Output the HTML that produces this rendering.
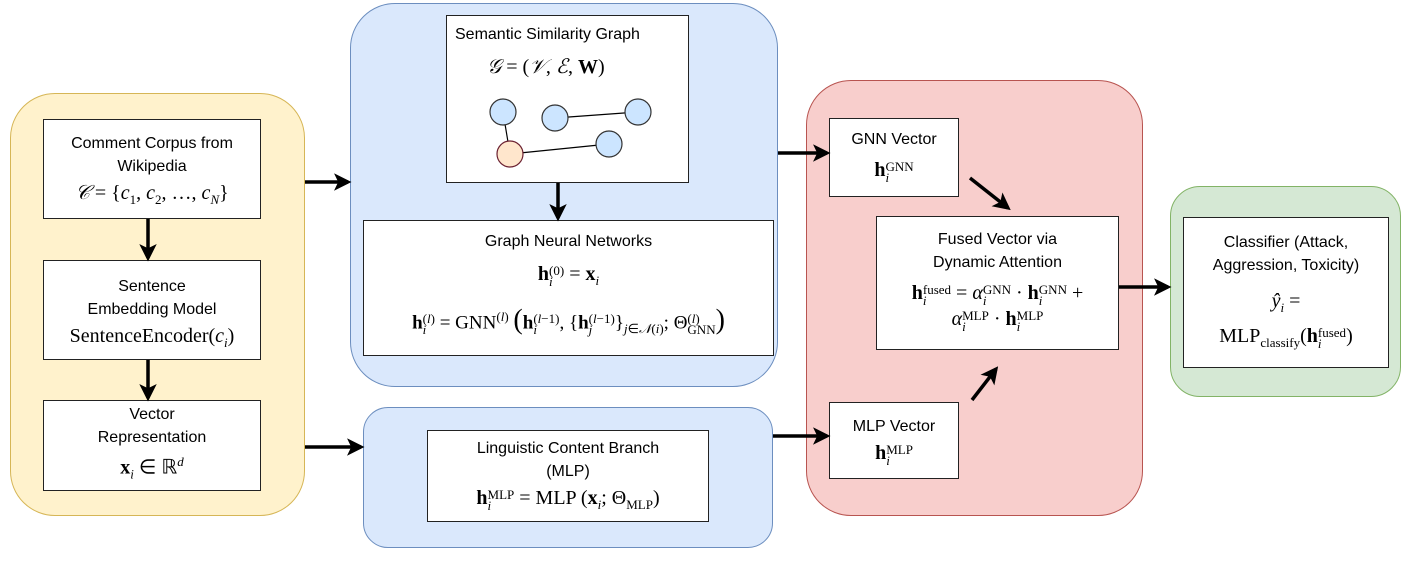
<!DOCTYPE html>
<html><head><meta charset="utf-8"><style>
body{margin:0;width:1416px;height:576px;background:#fff;position:relative;overflow:hidden;font-family:"Liberation Sans",sans-serif;color:#000}
.c{position:absolute;box-sizing:border-box;border-radius:45px;border:1.5px solid}
.b{position:absolute;box-sizing:border-box;background:#fff;border:1.5px solid #222;text-align:center;font-size:16px;line-height:23px}
.m{font-family:"Liberation Serif",serif;font-size:20px;line-height:30px;white-space:nowrap}
i{font-style:italic}
.s{display:inline-block;vertical-align:-6px;line-height:11px;font-size:13px;text-align:left}
.s span{display:block}
sub,sup{font-size:13px}
svg{position:absolute;left:0;top:0}
</style></head><body>
<div class="c" style="left:10px;top:93px;width:295px;height:423px;background:#fff2cc;border-color:#d6b656"></div>
<div class="c" style="left:350px;top:3px;width:428px;height:384px;background:#dae8fc;border-color:#6c8ebf"></div>
<div class="c" style="left:363px;top:407px;width:410px;height:141px;background:#dae8fc;border-color:#6c8ebf;border-radius:25px"></div>
<div class="c" style="left:806px;top:80px;width:337px;height:436px;background:#f8cecc;border-color:#b85450"></div>
<div class="c" style="left:1170px;top:186px;width:231px;height:211px;background:#d5e8d4;border-color:#82b366;border-radius:30px"></div>

<div class="b" style="left:43px;top:119px;width:218px;height:100px;padding-top:12px">Comment Corpus from<br>Wikipedia<div class="m"><i>𝒞</i> = {<i>c</i><sub>1</sub>, <i>c</i><sub>2</sub>, …, <i>c</i><sub><i>N</i></sub>}</div></div>
<div class="b" style="left:43px;top:260px;width:218px;height:100px;padding-top:14px">Sentence<br>Embedding Model<div class="m">SentenceEncoder(<i>c<sub>i</sub></i>)</div></div>
<div class="b" style="left:43px;top:400px;width:218px;height:91px;padding-top:2px">Vector<br>Representation<div class="m" style="line-height:26px"><b>x</b><sub><i>i</i></sub> ∈ ℝ<sup><i>d</i></sup></div></div>

<div class="b" style="left:446px;top:15px;width:243px;height:168px;text-align:left;padding:7px 0 0 8px">Semantic Similarity Graph<div class="m" style="margin:6px 0 0 32px"><i>𝒢</i> = (<i>𝒱</i>, <i>ℰ</i>, <b>W</b>)</div></div>
<div class="b" style="left:363px;top:220px;width:411px;height:136px;padding-top:9px">Graph Neural Networks
<div class="m" style="margin-top:6px"><b>h</b><span class="s"><span>(0)</span><span><i>i</i></span></span> = <b>x</b><sub><i>i</i></sub></div>
<div class="m" style="font-size:19px;margin-top:6px"><b>h</b><span class="s"><span>(<i>l</i>)</span><span><i>i</i></span></span> = GNN<sup>(<i>l</i>)</sup> <span style="font-size:28px">(</span><b>h</b><span class="s"><span>(<i>l</i>−1)</span><span><i>i</i></span></span>, {<b>h</b><span class="s"><span>(<i>l</i>−1)</span><span><i>j</i></span></span>}<sub><i>j</i>∈<i>𝒩</i>(<i>i</i>)</sub>; Θ<span class="s"><span>(<i>l</i>)</span><span>GNN</span></span><span style="font-size:28px">)</span></div></div>
<div class="b" style="left:427px;top:430px;width:282px;height:92px;padding-top:6px">Linguistic Content Branch<br>(MLP)<div class="m"><b>h</b><span class="s"><span>MLP</span><span><i>i</i></span></span> = MLP (<b>x</b><sub><i>i</i></sub>; Θ<sub>MLP</sub>)</div></div>

<div class="b" style="left:829px;top:118px;width:130px;height:79px;padding-top:9px">GNN Vector<div class="m" style="margin-top:4px"><b>h</b><span class="s"><span>GNN</span><span><i>i</i></span></span></div></div>
<div class="b" style="left:829px;top:402px;width:130px;height:77px;padding-top:12px">MLP Vector<div class="m"><b>h</b><span class="s"><span>MLP</span><span><i>i</i></span></span></div></div>
<div class="b" style="left:876px;top:216px;width:243px;height:134px;padding-top:11px">Fused Vector via<br>Dynamic Attention
<div class="m" style="line-height:26px;margin-top:6px"><b>h</b><span class="s"><span>fused</span><span><i>i</i></span></span> = <i>α</i><span class="s"><span>GNN</span><span><i>i</i></span></span> · <b>h</b><span class="s"><span>GNN</span><span><i>i</i></span></span> +<br><i>α</i><span class="s"><span>MLP</span><span><i>i</i></span></span> · <b>h</b><span class="s"><span>MLP</span><span><i>i</i></span></span></div></div>
<div class="b" style="left:1183px;top:217px;width:206px;height:151px;padding-top:13px">Classifier (Attack,<br>Aggression, Toxicity)
<div class="m" style="margin-top:10px;line-height:28px"><i>ŷ<sub>i</sub></i> =<br>MLP<sub>classify</sub>(<b>h</b><span class="s"><span>fused</span><span><i>i</i></span></span>)</div></div>

<svg width="1416" height="576">
<defs><marker id="a" markerWidth="5" markerHeight="5" refX="4" refY="2.5" orient="auto" markerUnits="strokeWidth"><path d="M0,0 L5,2.5 L0,5 L1.2,2.5Z" fill="#000"/></marker></defs>
<g stroke="#000" stroke-width="3.5" marker-end="url(#a)">
<line x1="148" y1="219" x2="148" y2="258"/>
<line x1="148" y1="360" x2="148" y2="398"/>
<line x1="558" y1="183" x2="558" y2="218"/>
<line x1="305" y1="182" x2="348" y2="182"/>
<line x1="305" y1="447" x2="361" y2="447"/>
<line x1="778" y1="153" x2="827" y2="153"/>
<line x1="773" y1="436" x2="827" y2="436"/>
<line x1="1119" y1="287" x2="1168" y2="287"/>
<line x1="970" y1="178" x2="1008" y2="208"/>
<line x1="972" y1="400" x2="996" y2="369"/>
</g>
<g stroke="#000" stroke-width="1.2">
<line x1="503" y1="112" x2="510" y2="154"/><line x1="555" y1="118" x2="638" y2="112"/><line x1="510" y1="154" x2="609" y2="144"/>
</g>
<g stroke="#333" stroke-width="1.2" fill="#cce5ff">
<circle cx="503" cy="112" r="13"/><circle cx="555" cy="118" r="13"/><circle cx="638" cy="112" r="13"/><circle cx="609" cy="144" r="13"/>
<circle cx="510" cy="154" r="13" fill="#ffe6cc" stroke="#6b2030"/>
</g>
</svg>
</body></html>
